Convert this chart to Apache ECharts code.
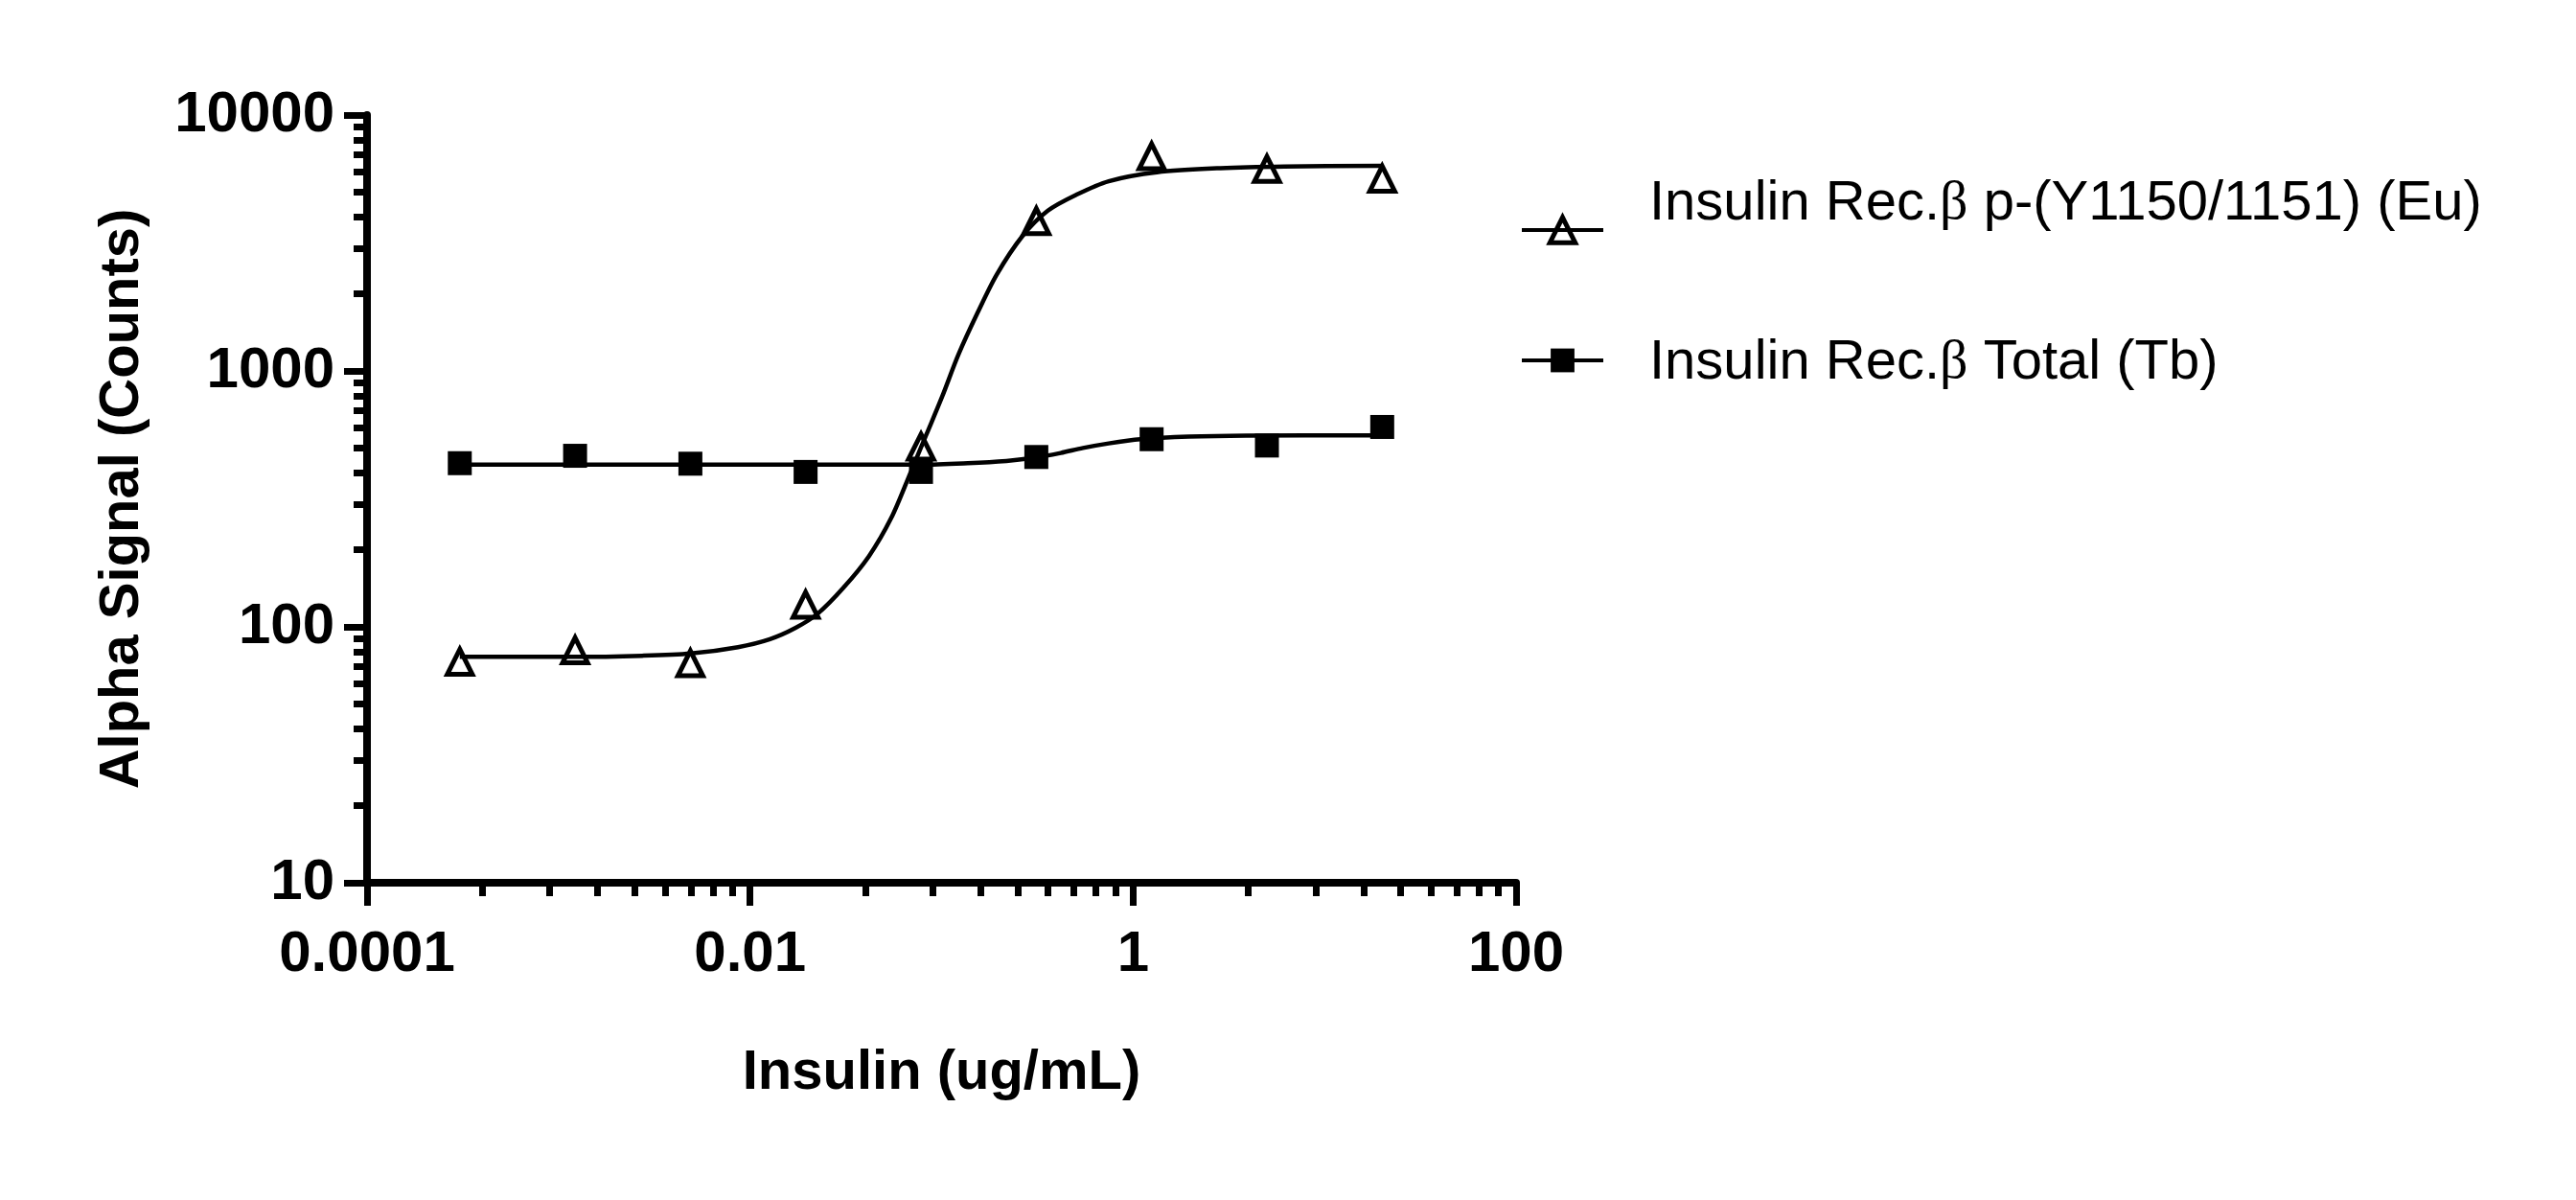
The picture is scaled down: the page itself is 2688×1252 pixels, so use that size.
<!DOCTYPE html>
<html>
<head>
<meta charset="utf-8">
<title>Insulin Rec.β alpha signal</title>
<script src="https://cdn.jsdelivr.net/npm/echarts@6/dist/echarts.min.js"></script>
<style>
html, body { margin: 0; padding: 0; background: #fff; }
#chart { width: 2688px; height: 1252px; }
</style>
</head>
<body>
<div id="chart"></div>
<script>
// insulin, 4-fold dilution series (ug/mL)
const doses = [0.000305, 0.00122, 0.00488, 0.0195, 0.0781, 0.3125, 1.25, 5, 20]
const euSignal = [73, 81, 72, 122, 506, 3850, 6900, 6150, 5640]
const tbSignal = [436, 466, 434, 403, 403, 461, 541, 511, 604]

// fitted curves
const euFitX = [0.000305, 0.00122, 0.00273, 0.0049, 0.00865, 0.0127, 0.0173, 0.0226, 0.0307, 0.0418, 0.0547, 0.0688, 0.0834, 0.101, 0.1225, 0.154, 0.194, 0.264, 0.359, 0.507, 0.746, 1.33, 2.86, 6.16, 20]
const euFitY = [76.3, 76.3, 77.1, 78.7, 83.3, 89.5, 99.1, 112.7, 142, 189, 267, 400, 565, 798, 1159, 1684, 2378, 3359, 4229, 4885, 5513, 5974, 6201, 6292, 6328]
const tbFitX = [0.000305, 0.0781, 0.137, 0.218, 0.308, 0.419, 0.548, 0.746, 1.09, 1.95, 3.89, 20]
const tbFitY = [430, 430, 436, 445, 458, 478, 500, 521, 541, 554, 559, 560]

// axis ticks
const xTicks = [0.0001, 0.01, 1, 100]
const yTicks = [10, 100, 1000, 10000]
const xMinorTicks = [0.0004, 0.0009, 0.0016, 0.0025, 0.0036, 0.0049, 0.0064, 0.0081,
    0.04, 0.09, 0.16, 0.25, 0.36, 0.49, 0.64, 0.81,
    4, 9, 16, 25, 36, 49, 64, 81]
const yMinorTicks = [20, 30, 40, 50, 60, 70, 80, 90,
    200, 300, 400, 500, 600, 700, 800, 900,
    2000, 3000, 4000, 5000, 6000, 7000, 8000, 9000]

const euName = 'Insulin Rec.β p-(Y1150/1151) (Eu)'
const tbName = 'Insulin Rec.β Total (Tb)'

const zip = (xs, ys) => xs.map((x, i) => [x, ys[i]])
const clean = v => String(+(+v).toPrecision(6))

const boldText = {
    fontFamily: 'Liberation Sans',
    fontWeight: 'bold',
    fontSize: 58,
    color: '#000'
}
const tickText = Object.assign({}, boldText, { fontSize: 60 })
const legendText = {
    fontFamily: 'Liberation Sans',
    fontSize: 58,
    color: '#000',
    rich: {
        b: { fontFamily: 'Liberation Serif', fontSize: 58, color: '#000' }
    }
}
const legendBase = {
    orient: 'vertical',
    left: 1581,
    itemWidth: 85,
    selectedMode: false,
    formatter: name => name.replace('β', '{b|β}'),
    lineStyle: { color: '#000', width: 4, opacity: 1 }
}

const chart = echarts.init(document.getElementById('chart'))

const option = {
    backgroundColor: '#fff',
    animation: false,
    grid: {
        left: 383,
        top: 120,
        width: 1199,
        height: 801,
        containLabel: false,
        outerBoundsMode: 'none'
    },
    legend: [
        Object.assign({}, legendBase, {
            data: [euName],
            top: 179,
            itemHeight: 33,
            itemStyle: { borderColor: '#000', borderWidth: 5 },
            textStyle: Object.assign({}, legendText, { padding: [0, 0, 54, 43] })
        }),
        Object.assign({}, legendBase, {
            data: [tbName],
            top: 345,
            itemHeight: 31,
            textStyle: Object.assign({}, legendText, { padding: [6, 0, 0, 43] })
        })
    ],
    xAxis: [
        {
            type: 'log',
            logBase: 10,
            min: xTicks[0],
            max: xTicks[xTicks.length - 1],
            interval: 2,
            position: 'bottom',
            name: 'Insulin (ug/mL)',
            nameLocation: 'middle',
            nameGap: 170,
            nameTextStyle: boldText,
            axisLine: { show: true, lineStyle: { color: '#000', width: 8 } },
            axisTick: { show: true, length: 24, lineStyle: { color: '#000', width: 7 } },
            axisLabel: Object.assign({ margin: 45, formatter: clean }, tickText),
            splitLine: { show: false },
            minorTick: { show: false }
        },
        {
            type: 'log',
            logBase: 10,
            min: xTicks[0],
            max: xTicks[xTicks.length - 1],
            position: 'bottom',
            axisLine: { show: false },
            axisTick: {
                show: true,
                length: 14,
                customValues: xMinorTicks,
                lineStyle: { color: '#000', width: 7 }
            },
            axisLabel: { show: false },
            splitLine: { show: false }
        }
    ],
    yAxis: [
        {
            type: 'log',
            logBase: 10,
            min: yTicks[0],
            max: yTicks[yTicks.length - 1],
            interval: 1,
            position: 'left',
            name: 'Alpha Signal (Counts)',
            nameLocation: 'middle',
            nameGap: 226,
            nameTextStyle: boldText,
            axisLine: { show: true, lineStyle: { color: '#000', width: 8 } },
            axisTick: { show: true, length: 24, lineStyle: { color: '#000', width: 7 } },
            axisLabel: Object.assign({ margin: 34, padding: [8, 0, 0, 0], formatter: clean }, tickText),
            splitLine: { show: false },
            minorTick: { show: false }
        },
        {
            type: 'log',
            logBase: 10,
            min: yTicks[0],
            max: yTicks[yTicks.length - 1],
            position: 'left',
            axisLine: { show: false },
            axisTick: {
                show: true,
                length: 14,
                customValues: yMinorTicks,
                lineStyle: { color: '#000', width: 7 }
            },
            axisLabel: { show: false },
            splitLine: { show: false }
        }
    ],
    series: [
        {
            name: euName + ' fit',
            type: 'line',
            data: zip(euFitX, euFitY),
            showSymbol: false,
            smooth: 0.3,
            silent: true,
            lineStyle: { color: '#000', width: 4.5 },
            z: 2
        },
        {
            name: tbName + ' fit',
            type: 'line',
            data: zip(tbFitX, tbFitY),
            showSymbol: false,
            smooth: 0.3,
            silent: true,
            lineStyle: { color: '#000', width: 4.5 },
            z: 2
        },
        {
            name: euName,
            type: 'line',
            data: zip(doses, euSignal),
            symbol: 'triangle',
            symbolSize: 26,
            showAllSymbol: true,
            silent: true,
            lineStyle: { opacity: 0, color: '#000', width: 4 },
            itemStyle: { color: 'rgba(255,255,255,0)', borderColor: '#000', borderWidth: 5 },
            z: 3
        },
        {
            name: tbName,
            type: 'line',
            data: zip(doses, tbSignal),
            symbol: 'rect',
            symbolSize: 25,
            showAllSymbol: true,
            silent: true,
            lineStyle: { opacity: 0, color: '#000', width: 4 },
            itemStyle: { color: '#000', borderWidth: 0 },
            z: 3
        }
    ]
}

chart.setOption(option)
</script>
</body>
</html>
